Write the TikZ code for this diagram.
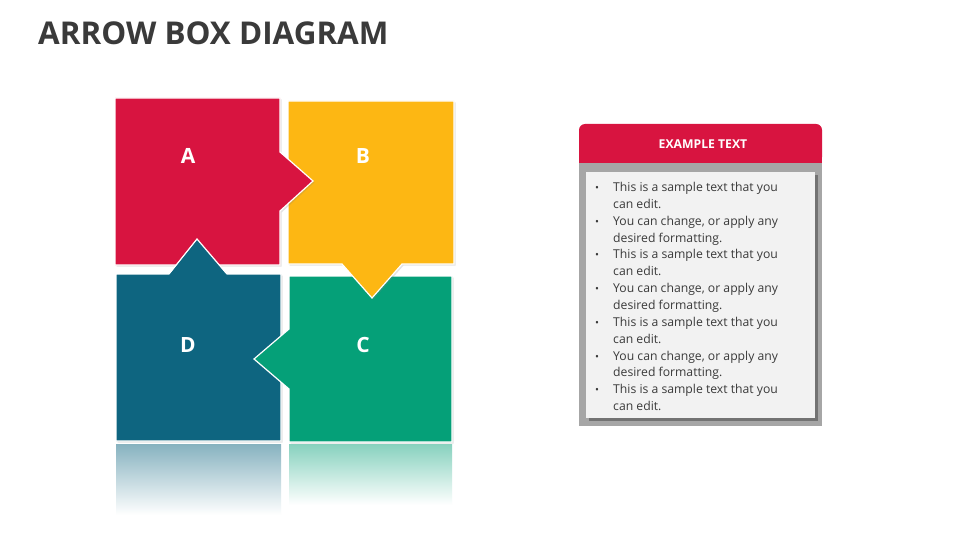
\documentclass[tikz,border=0pt]{standalone}
\usepackage{fontspec}
\setmainfont{Open Sans}
\usetikzlibrary{shadows}
\definecolor{cred}{HTML}{D81440}
\definecolor{cyel}{HTML}{FDB713}
\definecolor{cgrn}{HTML}{05A078}
\definecolor{cblu}{HTML}{0E6580}
\definecolor{ctxt}{HTML}{3A3A3A}
\definecolor{cgray}{HTML}{A6A6A6}
\definecolor{cpanel}{HTML}{F2F2F2}
\tikzset{
  piece/.style={draw=white, line width=1.2pt, line join=miter,
    drop shadow={opacity=0.22, shadow xshift=1.5pt, shadow yshift=-1.5pt}},
  letter/.style={text=white, font=\fontsize{21}{25}\selectfont\bfseries, inner sep=0pt, anchor=base},
  bodyline/.style={text=ctxt, font=\fontsize{12.2}{14}\selectfont, inner sep=0pt, anchor=base west},
}
\begin{document}
\begin{tikzpicture}[x=1pt,y=-1pt]
\useasboundingbox (0,0) rectangle (960,540);
\fill[white] (0,0) rectangle (960,540);

% title
\node[anchor=base west, inner sep=0pt, text=ctxt, font=\fontsize{31.4}{36}\selectfont\bfseries] (title) at (38,45) {ARROW BOX DIAGRAM};

% reflections
\shade[top color=cblu!50!white, middle color=cblu!20!white, bottom color=white] (116,444) rectangle (281,515);
\shade[top color=cgrn!48!white, middle color=cgrn!15!white, bottom color=white] (289,444) rectangle (452,505);

% pieces (D, C, B, A), then D's arrow again on top
\path[piece, fill=cblu] (116,274)--(169,274)--(197,239)--(227,274)--(281,274)--(281,441)--(116,441)--cycle;
\path[piece, fill=cgrn] (289,276)--(452,276)--(452,442)--(289,442)--(289,389)--(254,359)--(289,329)--cycle;
\path[piece, fill=cyel] (288,101)--(454,101)--(454,264)--(402,264)--(372,298)--(342,264)--(288,264)--cycle;
\path[piece, fill=cred] (115,98)--(280,98)--(280,152)--(313,181)--(280,211)--(280,265)--(115,265)--cycle;
\fill[cblu] (169,275)--(197,239)--(227,275)--cycle;
\draw[white, line width=1.2pt, line join=miter] (169,274)--(197,239)--(227,274);

% letters
\node[letter] (la) at (188,164) {A};
\node[letter] (lb) at (363,164) {B};
\node[letter] (lc) at (363,352) {C};
\node[letter] (ld) at (188,352) {D};

% text box
\fill[cred, rounded corners=6pt] (579,163) -- (579,124) -- (822,124) -- (822,163) [sharp corners] -- cycle;
\fill[cred] (579,150) rectangle (822,163);
\fill[cgray] (579,163) rectangle (822,426);
\fill[black, opacity=0.3] (589,175) rectangle (818,421);
\fill[cpanel] (586,172) rectangle (815,418);
\node[text=white, font=\fontsize{12.2}{14}\selectfont\bfseries, inner sep=0pt] (hdr) at (703,144) {EXAMPLE TEXT};

\foreach \t [count=\i] in {{This is a sample text that you},{can edit.},{You can change, or apply any},{desired formatting.},{This is a sample text that you},{can edit.},{You can change, or apply any},{desired formatting.},{This is a sample text that you},{can edit.},{You can change, or apply any},{desired formatting.},{This is a sample text that you},{can edit.}}{
  \node[bodyline] (line\i) at (613,{191.5+(\i-1)*16.85}) {\t};
  \ifodd\i
    \node[bodyline, font=\fontsize{10.5}{12}\selectfont] (bul\i) at (595,{191.5+(\i-1)*16.85}) {•};
  \fi
}
\end{tikzpicture}
\end{document}
